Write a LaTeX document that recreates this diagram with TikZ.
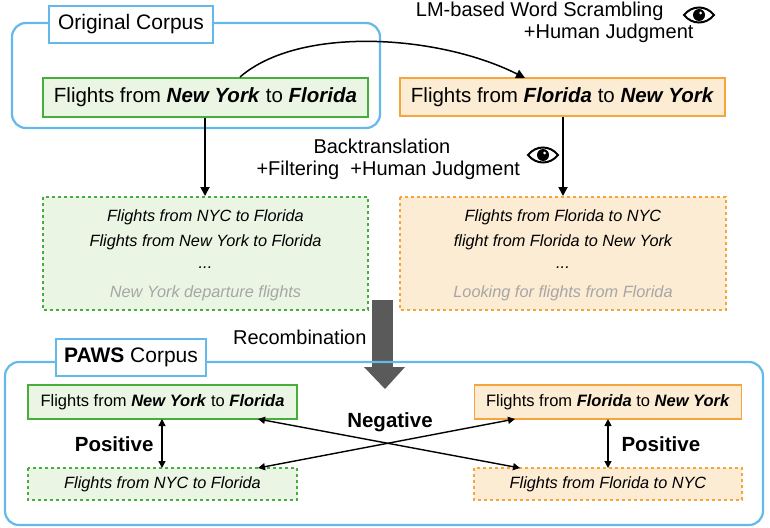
\documentclass[tikz,border=0pt]{standalone}
\usepackage{fontspec}
\setmainfont{Liberation Sans}
\usetikzlibrary{arrows.meta}
\definecolor{cblue}{RGB}{100,185,235}
\definecolor{cgreen}{RGB}{70,175,60}
\definecolor{gfill}{RGB}{234,245,228}
\definecolor{corange}{RGB}{245,165,60}
\definecolor{ofill}{RGB}{253,236,212}
\definecolor{darkg}{RGB}{90,90,90}
\begin{document}
\begin{tikzpicture}[x=1pt,y=-1pt,
  cont/.style={draw=cblue,line width=2.2pt,rounded corners=14pt},
  title/.style={draw=cblue,line width=2.2pt,fill=white,inner sep=0pt,font=\fontsize{21}{24}\selectfont},
  gbox/.style={draw=cgreen,fill=gfill,line width=1.5pt,inner sep=0pt,font=\fontsize{20.5}{24}\selectfont},
  obox/.style={draw=corange,fill=ofill,line width=1.5pt,inner sep=0pt,font=\fontsize{20.5}{24}\selectfont},
  gsbox/.style={draw=cgreen,fill=gfill,line width=1.3pt,inner sep=0pt,font=\fontsize{16.5}{19}\selectfont},
  osbox/.style={draw=corange,fill=ofill,line width=1.3pt,inner sep=0pt,font=\fontsize{16.5}{19}\selectfont},
  gdash/.style={draw=cgreen,fill=gfill,line width=1.3pt,dash pattern=on 3pt off 3pt},
  odash/.style={draw=corange,fill=ofill,line width=1.3pt,dash pattern=on 3pt off 3pt},
  lbl/.style={font=\fontsize{20}{23}\selectfont},
  blbl/.style={font=\fontsize{20.5}{23}\selectfont\bfseries},
  itl/.style={font=\fontsize{16.3}{19}\selectfont\itshape},
  arr/.style={line width=1.8pt,-{Triangle[length=9pt,width=9pt]}},
  darr/.style={line width=1.4pt,{Triangle[length=7pt,width=7pt]}-{Triangle[length=7pt,width=7pt]}}]
\useasboundingbox (0,0) rectangle (770,527);
\def\eye#1{\begin{scope}[shift={#1}]
  \draw[line width=2pt] (-15,0) .. controls (-7,-10) and (7,-10) .. (15,0) .. controls (7,10) and (-7,10) .. (-15,0) -- cycle;
  \fill (0,0) circle (6pt); \fill[white] (1.5,-2) circle (1.5pt);
\end{scope}}
% top container
\draw[cont] (12,23) rectangle (380,128);
\node[title,minimum width=164pt,minimum height=37pt] (oc) at (131,24.5) {Original Corpus};
\node[gbox,minimum width=325pt,minimum height=39pt] (g1) at (205.5,97.5) {Flights from \textbf{\textit{New York}} to \textbf{\textit{Florida}}};
\node[obox,minimum width=325pt,minimum height=38pt] (o1) at (562.5,97) {Flights from \textbf{\textit{Florida}} to \textbf{\textit{New York}}};
\coordinate (cs) at (240,77);
\coordinate (ce) at (525,78);
\draw[arr,line width=1.5pt] (cs) .. controls (300,25) and (440,35) .. (ce);
\node[lbl,anchor=east] (lm) at (667,11) {LM-based Word Scrambling};
\node[lbl,anchor=east] (hj1) at (697,33) {+Human Judgment};
\eye{(699,15)}
% dashed boxes
\draw[gdash] (43,197) rectangle (368,310);
\draw[odash] (400,197) rectangle (726,310);
\node[itl] (ga) at (205.5,217) {Flights from NYC to Florida};
\node[itl] (gb) at (205.5,242) {Flights from New York to Florida};
\node[itl] (gc) at (205.5,268) {...};
\node[itl,text=gray!70] (gd) at (205.5,293) {New York departure flights};
\node[itl] (oa) at (563,217) {Flights from Florida to NYC};
\node[itl] (ob) at (563,242) {flight from Florida to New York};
\node[itl] (oc2) at (563,268) {...};
\node[itl,text=gray!70] (od) at (563,293) {Looking for flights from Florida};
\coordinate (gt) at (205,196);
\coordinate (ot) at (563,196);
\draw[arr] (g1.south -| gt) -- (gt);
\draw[arr] (o1.south -| ot) -- (ot);
\node[lbl,anchor=west] (bt) at (310,146) {Backtranslation};
\node[lbl,anchor=west] (flt) at (253,170) {+Filtering\ \ +Human Judgment};
\eye{(543,155)}
% recombination arrow
\fill[darkg] (372,300) rectangle (393,368);
\fill[darkg] (364,367) -- (405,367) -- (385,389) -- cycle;
\node[lbl,anchor=east] (rc) at (370,337) {Recombination};
% bottom container
\draw[cont] (5,362) rectangle (763,525);
\node[title,minimum width=150pt,minimum height=37pt] (pc) at (131,357.5) {\textbf{PAWS} Corpus};
\node[gsbox,minimum width=269pt,minimum height=34pt] (g2) at (162.5,402) {Flights from \textbf{\textit{New York}} to \textbf{\textit{Florida}}};
\node[osbox,minimum width=267pt,minimum height=34pt] (o2) at (608,402) {Flights from \textbf{\textit{Florida}} to \textbf{\textit{New York}}};
\draw[gdash] (28,468) rectangle (297,500);
\draw[odash] (474,468) rectangle (742,500);
\node[itl] (g3) at (162.5,484) {Flights from NYC to Florida};
\node[itl] (o3) at (608,484) {Flights from Florida to NYC};
\coordinate (g3t) at (162,468); \coordinate (o3t) at (608,468);
\draw[darr] (162,419) -- (g3t);
\draw[darr] (608,419) -- (o3t);
\node[blbl,anchor=east] (p1) at (157,444) {Positive};
\node[blbl,anchor=west] (p2) at (618,444) {Positive};
\node[blbl] (neg) at (390,422) {Negative};
\coordinate (n1a) at (258,419); \coordinate (n1b) at (520,468);
\coordinate (n2a) at (515,419); \coordinate (n2b) at (258,468);
\draw[darr] (n1a) -- (n1b);
\draw[darr] (n2a) -- (n2b);
\end{tikzpicture}
\end{document}
